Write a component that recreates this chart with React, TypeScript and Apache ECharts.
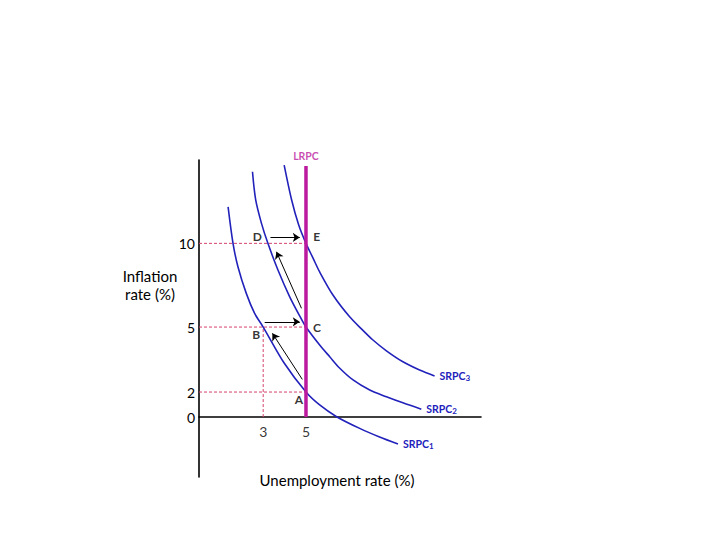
import React, { useEffect, useRef } from 'react';
import * as echarts from 'echarts';

// Plot units: x = unemployment rate (%), y = vertical position on the sketch's (non-linear) inflation axis
const xTickValues = [3, 5];
const yTickPositions = [0, 1.39, 5, 9.65];
const yTickLabels = ['0', '2', '5', '10'];

const srpc1 = [[1.36, 11.68], [1.59, 9.65], [1.82, 8.35], [2.21, 6.87], [2.6, 5.76], [3, 5], [3.98, 3.0], [5, 1.39], [5.64, 0.67], [6.43, 0.02], [7.51, -0.63], [8.44, -1.11], [9.3, -1.5]];
const srpc2 = [[2.5, 13.63], [2.65, 12.06], [2.92, 10.76], [3.22, 9.65], [3.69, 8.17], [4.24, 6.68], [4.71, 5.61], [5, 5], [5.64, 4.0], [6.11, 3.35], [6.58, 2.71], [7.2, 2.06], [7.98, 1.5], [8.76, 1.13], [9.53, 0.79], [10.39, 0.44]];
const srpc3 = [[3.98, 14.0], [4.33, 12.06], [4.66, 10.67], [5, 9.65], [5.33, 8.83], [5.64, 8.06], [6.26, 6.78], [7.04, 5.57], [7.65, 4.83], [8.13, 4.28], [8.76, 3.68], [9.53, 3.07], [10.31, 2.61], [11.01, 2.28]];
const lrpc = [[5, 0], [5, 13.94]];

const guideSegments = [
  [[0, 9.65], [5, 9.65]],
  [[0, 5], [5, 5]],
  [[0, 1.39], [5, 1.39]],
  [[3, 0], [3, 5]],
];
const arrowSegments = [
  [[3.34, 9.98], [4.71, 9.98]],
  [[3.07, 5.29], [4.71, 5.29]],
  [[4.83, 2.09], [3.43, 4.65]],
  [[4.79, 6.04], [3.62, 9.18]],
];
const pointNames = ['A', 'B', 'C', 'D', 'E'];
const pointCoords = [[5, 1.39], [3, 5], [5, 5], [3.22, 9.65], [5, 9.65]];
const pointOffsets = [[-7, 7], [-7, 7], [11, 0], [-10.5, -6.5], [10.7, -6.5]];

const FONT = 'Lato, "Open Sans", sans-serif';
const BLUE = '#2222bb';
const MAGENTA = '#bb1a9e';
const GUIDE = '#d4426e';

function curveSeries(name: string, data: number[][], sub: string) {
  return {
    type: 'line',
    name,
    data,
    smooth: 0.3,
    symbol: 'none',
    lineStyle: { color: BLUE, width: 1.6 },
    z: 3,
    endLabel: {
      show: true,
      distance: 5,
      formatter: () => `{a|SRPC}{b|${sub}}`,
      rich: {
        a: { fontSize: 10.5, fontWeight: 'bold', color: BLUE, fontFamily: FONT, lineHeight: 12 },
        b: { fontSize: 8, fontWeight: 'bold', color: BLUE, fontFamily: FONT, lineHeight: 8, verticalAlign: 'bottom' },
      },
    },
  };
}

export default function App() {
  const ref = useRef<HTMLDivElement>(null);
  useEffect(() => {
    if (!ref.current) return;
    const chart = echarts.init(ref.current, undefined, { renderer: 'svg' });
    chart.setOption({
      animation: false,
      backgroundColor: '#ffffff',
      textStyle: { fontFamily: FONT },
      grid: { left: 199, right: 239, top: 160, bottom: 63 },
      xAxis: {
        type: 'value',
        min: 0,
        max: 13.18,
        axisLine: { show: true, onZero: true, lineStyle: { color: '#000', width: 1.6 } },
        axisTick: { show: false },
        splitLine: { show: false },
        axisLabel: { show: false },
      },
      yAxis: {
        type: 'value',
        min: -3.33,
        max: 14.28,
        axisLine: { show: true, onZero: false, lineStyle: { color: '#000', width: 1.6 } },
        axisTick: { show: false },
        splitLine: { show: false },
        axisLabel: {
          customValues: yTickPositions,
          color: '#000',
          fontSize: 14,
          margin: 4,
          fontFamily: FONT,
          formatter: (v: number) => {
            let best = 0;
            yTickPositions.forEach((p, i) => {
              if (Math.abs(p - v) < Math.abs(yTickPositions[best] - v)) best = i;
            });
            return yTickLabels[best];
          },
        },
      },
      graphic: [
        {
          type: 'text',
          x: 150,
          y: 285,
          style: {
            text: 'Inflation\nrate (%)',
            fontSize: 15,
            lineHeight: 18,
            fontFamily: FONT,
            fill: '#000',
            align: 'center',
            verticalAlign: 'middle',
          },
        },
        {
          type: 'text',
          x: 337,
          y: 480,
          style: {
            text: 'Unemployment rate (%)',
            fontSize: 15,
            fontFamily: FONT,
            fill: '#000',
            align: 'center',
            verticalAlign: 'middle',
          },
        },
      ],
      series: [
        ...guideSegments.map((seg) => ({
          type: 'line',
          data: seg,
          symbol: 'none',
          silent: true,
          lineStyle: { color: GUIDE, width: 1, type: [3, 2] },
          z: 1,
        })),
        curveSeries('SRPC1', srpc1, '1'),
        curveSeries('SRPC2', srpc2, '2'),
        curveSeries('SRPC3', srpc3, '3'),
        {
          type: 'line',
          name: 'LRPC',
          data: lrpc,
          symbol: 'none',
          lineStyle: { color: MAGENTA, width: 3.5 },
          z: 4,
        },
        {
          type: 'lines',
          coordinateSystem: 'cartesian2d',
          data: arrowSegments.map((c) => ({ coords: c })),
          lineStyle: { color: '#000', width: 1, opacity: 1 },
          symbol: ['none', 'arrow'],
          symbolSize: [0, 7],
          z: 5,
        },
        {
          type: 'scatter',
          data: xTickValues.map((v) => ({ name: String(v), value: [v, 0] })),
          symbolSize: 1,
          itemStyle: { color: 'rgba(0,0,0,0)' },
          silent: true,
          z: 6,
          label: {
            show: true,
            position: 'bottom',
            distance: 7,
            formatter: '{b}',
            color: '#000',
            fontSize: 14,
            fontFamily: FONT,
          },
        },
        {
          type: 'scatter',
          data: [
            ...pointNames.map((n, i) => ({
              name: n,
              value: pointCoords[i],
              label: { offset: pointOffsets[i] },
            })),
            {
              name: 'LRPC',
              value: lrpc[1],
              label: { position: 'top', distance: 4, offset: [0, 0], color: MAGENTA, fontSize: 10.5 },
            },
          ],
          symbolSize: 1,
          itemStyle: { color: 'rgba(0,0,0,0)' },
          silent: true,
          z: 6,
          label: {
            show: true,
            position: 'inside',
            formatter: '{b}',
            color: '#000',
            fontWeight: 'bold',
            fontSize: 12,
            fontFamily: FONT,
          },
        },
      ],
    });
    return () => chart.dispose();
  }, []);
  return <div ref={ref} style={{ position: 'fixed', left: 0, top: 0, width: 720, height: 540 }} />;
}
